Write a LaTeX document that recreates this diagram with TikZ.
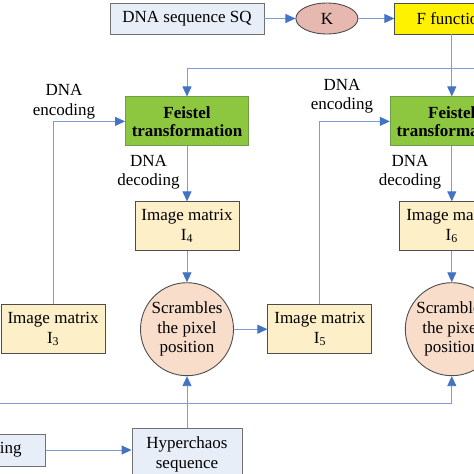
\documentclass[tikz,border=0pt]{standalone}
\usepackage{fontspec}
\setmainfont{Liberation Serif}
\usepackage{tikz}
\usetikzlibrary{arrows.meta,positioning,shapes.geometric}

\definecolor{lineblue}{HTML}{7E9CD3}
\definecolor{tipblue}{HTML}{4472C4}
\definecolor{boxblue}{HTML}{E8EEF8}
\definecolor{kpink}{HTML}{E6B8B0}
\definecolor{fgreen}{HTML}{8DC63F}
\definecolor{fedge}{HTML}{6E9E4A}
\definecolor{matcream}{HTML}{FDEFC8}
\definecolor{circpeach}{HTML}{F9DDCB}
\definecolor{edgegray}{HTML}{4D4D4D}

\begin{document}
\begin{tikzpicture}[
  x=1pt, y=-1pt,
  >={Triangle[length=10pt,width=9pt,color=tipblue]},
  every node/.style={font=\fontsize{17}{19.5}\selectfont, inner sep=0pt},
  flow/.style={draw=lineblue, line width=0.9pt},
  seqbox/.style={draw=edgegray!80, line width=0.9pt, fill=boxblue, align=center},
  keynode/.style={ellipse, draw=edgegray, line width=0.9pt, fill=kpink, minimum width=62pt, minimum height=31pt},
  fbox/.style={draw=edgegray, line width=0.9pt, fill=yellow, minimum width=114pt, minimum height=31pt},
  feistel/.style={draw=fedge, line width=0.9pt, fill=fgreen, align=center, font=\fontsize{17}{18}\selectfont\bfseries, minimum width=123pt, minimum height=49pt},
  matbox/.style={draw=edgegray, line width=0.9pt, fill=matcream, align=center, minimum width=104pt, minimum height=49pt},
  scram/.style={circle, draw=edgegray, line width=0.9pt, fill=circpeach, align=center, minimum size=93pt},
  note/.style={align=center}
]
\useasboundingbox (0,0) rectangle (474,474);
\clip (0,0) rectangle (474,474);
\node[seqbox, minimum width=154pt, minimum height=31pt] (sq) at (187,18.5) {DNA sequence SQ};
\node[keynode, right=31pt of sq] (k) {K};
\node[fbox, right=36pt of k] (f) {F function};
\node[feistel, below=62pt of sq] (fe1) {Feistel\\transformation};
\node[feistel, below=62pt of f] (fe2) {Feistel\\transformation};
\node[matbox, below=55pt of fe1] (i4) {Image matrix\\I\textsubscript{4}};
\node[scram, below=31pt of i4] (sc1) {Scrambles\\the pixel\\position};
\node[matbox, left=34.5pt of sc1] (i3) {Image matrix\\I\textsubscript{3}};
\node[matbox, right=33.5pt of sc1] (i5) {Image matrix\\I\textsubscript{5}};
\node[matbox, below=55pt of fe2] (i6) {Image matrix\\I\textsubscript{6}};
\node[scram, below=31pt of i6] (sc2) {Scrambles\\the pixel\\position};
\node[seqbox, minimum width=110pt, minimum height=52pt, below=52pt of sc1] (hyper) {Hyperchaos\\sequence};
\node[seqbox, minimum height=32pt, inner xsep=24pt, anchor=east] (pre) at (46,450) {ing};
\node[note] (enc1) at (64,101.5) {DNA\\encoding};
\node[note] (enc2) at (342,96) {DNA\\encoding};
\node[note] (dec1) at (148.5,172) {DNA\\decoding};
\node[note] (dec2) at (410,172) {DNA\\decoding};
\coordinate (feedin) at (480,68);
\coordinate (chaosin) at (-5,403);
% key path
\draw[flow, ->] (sq) -- (k);
\draw[flow, ->] (k) -- (f);
\draw[flow, ->] (f) -- (fe2);
\draw[flow, ->] (feedin) -| (fe1.north);
% rounds
\draw[flow, ->] (i3.north) |- (fe1.west);
\draw[flow, ->] (i5.north) |- (fe2.west);
\draw[flow, ->] (fe1) -- (i4);
\draw[flow, ->] (i4) -- (sc1);
\draw[flow, ->] (sc1) -- (i5);
\draw[flow, ->] (fe2) -- (i6);
\draw[flow, ->] (i6) -- (sc2);
% chaos input
\draw[flow, ->] (chaosin) -| (sc2.south);
\draw[flow, ->] (hyper) -- (sc1);
\draw[flow, ->] (pre.east) -- (pre.east -| hyper.west);
\end{tikzpicture}
\end{document}
